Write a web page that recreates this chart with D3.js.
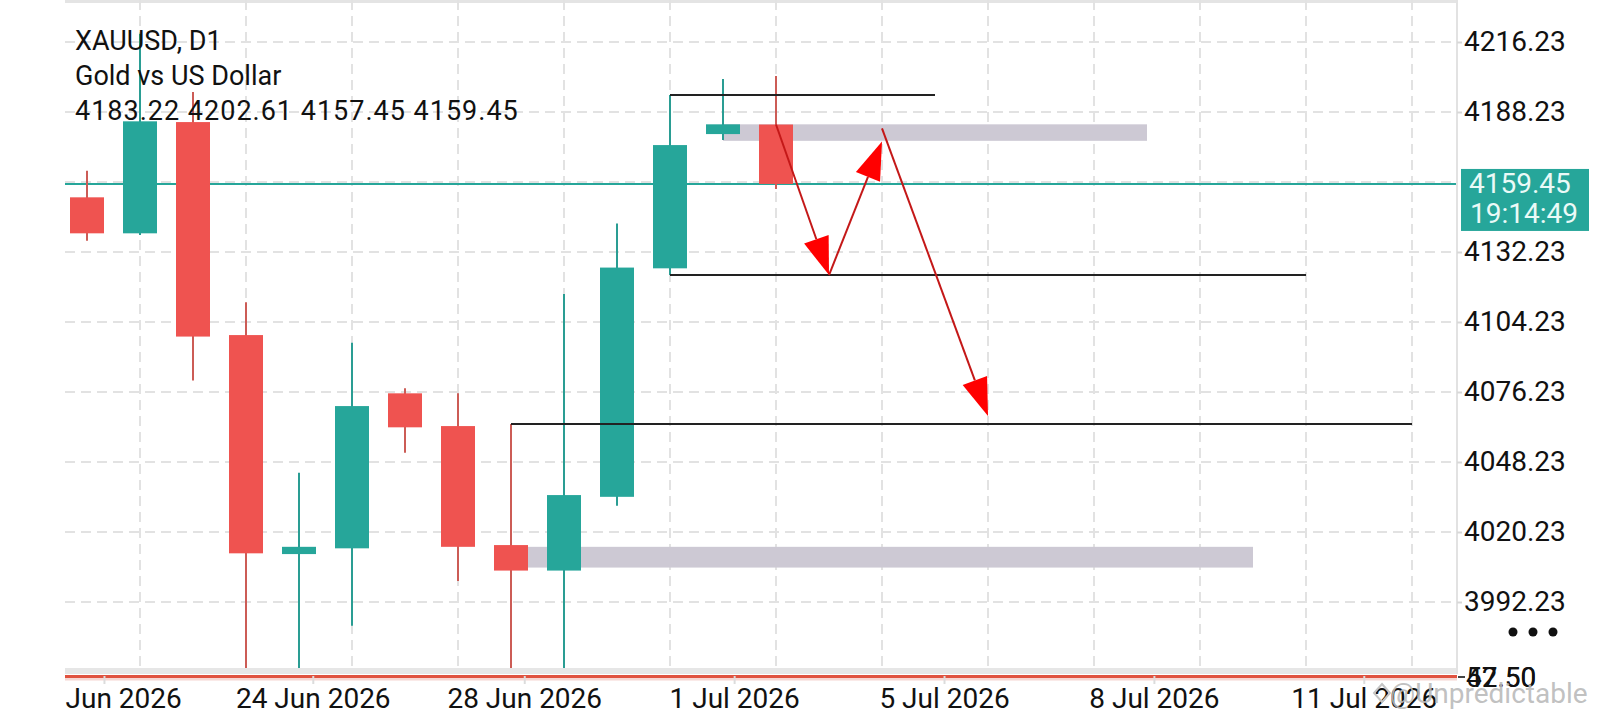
<!DOCTYPE html>
<html>
<head>
<meta charset="utf-8">
<script src="https://cdn.jsdelivr.net/npm/d3@7"></script>
<style>
  html, body { margin: 0; padding: 0; background: #fff; }
  svg { display: block; font-family: Roboto, "Noto Sans", sans-serif; }
</style>
</head>
<body>
<script>
const width = 1604;
const height = 720;

// daily candles, bar index 0..13
const opens  = [4154.1, 4139.7, 4184.2, 4099.0, 4011.4, 4013.7, 4075.7, 4062.6, 4015.0, 4004.8, 4034.3, 4125.7, 4179.4, 4183.22];
const highs  = [4164.7, 4219.5, 4196.2, 4112.1, 4043.9, 4095.9, 4077.7, 4075.7, 4063.4, 4115.4, 4143.6, 4195.0, 4201.4, 4202.61];
const lows   = [4136.7, 4139.0, 4080.8, 3960.0, 3960.0, 3982.7, 4051.9, 4000.6, 3960.0, 3960.0, 4030.7, 4123.0, 4177.0, 4157.45];
const closes = [4139.7, 4184.5, 4098.4, 4011.7, 4014.3, 4070.6, 4062.1, 4014.3, 4004.8, 4035.0, 4126.0, 4175.0, 4183.3, 4159.45];

const priceTicks = [3992.23, 4020.23, 4048.23, 4076.23, 4104.23, 4132.23, 4160.23, 4188.23, 4216.23];
const shownPriceTicks = [3992.23, 4020.23, 4048.23, 4076.23, 4104.23, 4132.23, 4188.23, 4216.23];
const gridBars = [1, 3, 5, 7, 9, 11, 13, 15, 17, 19, 21, 23, 25];
const dateTickPos = [0.32, 4.26, 8.25, 12.21, 16.17, 20.13, 24.09];
const dateTickLabels = ["20 Jun 2026", "24 Jun 2026", "28 Jun 2026", "1 Jul 2026", "5 Jul 2026", "8 Jul 2026", "11 Jul 2026"];

const lastPrice = 4159.45;
const timer = "19:14:49";
const header = ["XAUUSD, D1", "Gold vs US Dollar", "4183.22 4202.61 4157.45 4159.45"];
const subLabels = ["57.50", "42.50"];

// drawn objects: horizontal levels, zones, arrows (bar index / price)
const levels = [
  { from: 11, to: 16, price: 4195.0 },
  { from: 11, to: 23, price: 4123.0 },
  { from: 8,  to: 25, price: 4063.4 }
];
const zones = [
  { from: 12, to: 20, top: 4183.3, bottom: 4176.7 },
  { from: 8,  to: 22, top: 4014.3, bottom: 4006.0 }
];
const arrows = [
  { x1: 13, p1: 4183.22, x2: 14, p2: 4123.0 },
  { x1: 14, p1: 4123.0,  x2: 15, p2: 4176.4 },
  { x1: 15, p1: 4181.7,  x2: 17, p2: 4066.6 }
];

const candles = opens.map((o, i) => ({ i, o, h: highs[i], l: lows[i], c: closes[i] }));

const plot = { left: 65, right: 1457, top: 0, bottom: 668 };
const green = "#26a69a", red = "#ef5350";

const x = d3.scaleLinear().domain([0, 25]).range([87, 1412]);
const y = d3.scaleLinear().domain([3992.23, 4216.23]).range([602, 42]);
const barW = 34;

const svg = d3.select("body").append("svg")
  .attr("width", width)
  .attr("height", height);

const defs = svg.append("defs");
defs.append("clipPath").attr("id", "plotClip")
  .append("rect")
  .attr("x", plot.left).attr("y", plot.top)
  .attr("width", plot.right - plot.left).attr("height", plot.bottom - plot.top);
defs.append("clipPath").attr("id", "axisClip")
  .append("rect")
  .attr("x", plot.left).attr("y", 670)
  .attr("width", width - plot.left).attr("height", 50);

// top border
svg.append("line")
  .attr("x1", plot.left).attr("x2", plot.right)
  .attr("y1", 1.5).attr("y2", 1.5)
  .attr("stroke", "#e4e4e4").attr("stroke-width", 3);

// grid
const grid = svg.append("g").attr("clip-path", "url(#plotClip)");
grid.selectAll(".hgrid").data(priceTicks).enter().append("line")
  .attr("x1", plot.left).attr("x2", plot.right)
  .attr("y1", d => y(d)).attr("y2", d => y(d))
  .attr("stroke", "#e2e2e2").attr("stroke-width", 2)
  .attr("stroke-dasharray", "10,6");
grid.selectAll(".vgrid").data(gridBars).enter().append("line")
  .attr("x1", d => x(d)).attr("x2", d => x(d))
  .attr("y1", plot.top).attr("y2", plot.bottom)
  .attr("stroke", "#e2e2e2").attr("stroke-width", 2)
  .attr("stroke-dasharray", "10,6");

const main = svg.append("g").attr("clip-path", "url(#plotClip)");

// zones
main.selectAll(".zone").data(zones).enter().append("rect")
  .attr("x", d => x(d.from))
  .attr("y", d => y(d.top))
  .attr("width", d => x(d.to) - x(d.from))
  .attr("height", d => y(d.bottom) - y(d.top))
  .attr("fill", "#cdc9d4");

// last price line
main.append("line")
  .attr("x1", plot.left).attr("x2", plot.right)
  .attr("y1", y(lastPrice)).attr("y2", y(lastPrice))
  .attr("stroke", green).attr("stroke-width", 2);

// candles
const cg = main.selectAll(".candle").data(candles).enter().append("g");
cg.append("line")
  .attr("x1", d => x(d.i)).attr("x2", d => x(d.i))
  .attr("y1", d => y(d.h)).attr("y2", d => y(d.l))
  .attr("stroke", d => d.c >= d.o ? "#2a9d93" : "#cc5c56")
  .attr("stroke-width", 2);
cg.append("rect")
  .attr("x", d => x(d.i) - barW / 2)
  .attr("width", barW)
  .attr("y", d => y(Math.max(d.o, d.c)))
  .attr("height", d => Math.max(2, Math.abs(y(d.o) - y(d.c))))
  .attr("fill", d => d.c >= d.o ? green : red);

// horizontal levels
main.selectAll(".level").data(levels).enter().append("line")
  .attr("x1", d => x(d.from)).attr("x2", d => x(d.to))
  .attr("y1", d => y(d.price)).attr("y2", d => y(d.price))
  .attr("stroke", "#222").attr("stroke-width", 2);

// arrows
arrows.forEach(a => {
  const x1 = x(a.x1), y1 = y(a.p1), x2 = x(a.x2), y2 = y(a.p2);
  const len = Math.hypot(x2 - x1, y2 - y1);
  const ux = (x2 - x1) / len, uy = (y2 - y1) / len;
  const hl = 38, hw = 13;
  const bx = x2 - ux * hl, by = y2 - uy * hl;
  main.append("line")
    .attr("x1", x1).attr("y1", y1).attr("x2", bx).attr("y2", by)
    .attr("stroke", "#c41818").attr("stroke-width", 2);
  main.append("path")
    .attr("d", `M${x2},${y2}L${bx - uy * hw},${by + ux * hw}L${bx + uy * hw},${by - ux * hw}Z`)
    .attr("fill", "#ff0000");
});

// bottom strip and indicator line
svg.append("rect")
  .attr("x", plot.left).attr("y", 668)
  .attr("width", plot.right - plot.left).attr("height", 6)
  .attr("fill", "#e6e6e6");
svg.append("line")
  .attr("x1", plot.left).attr("x2", plot.right)
  .attr("y1", 679).attr("y2", 679)
  .attr("stroke", "#f6d6d2").attr("stroke-width", 3);
svg.append("line")
  .attr("x1", plot.left).attr("x2", plot.right)
  .attr("y1", 676.5).attr("y2", 676.5)
  .attr("stroke", "#e0523f").attr("stroke-width", 3);

// right border
svg.append("line")
  .attr("x1", plot.right).attr("x2", plot.right)
  .attr("y1", 0).attr("y2", 674)
  .attr("stroke", "#e2e2e2").attr("stroke-width", 2);

// y axis
const yAxis = svg.append("g")
  .attr("transform", `translate(${plot.right},0)`)
  .call(d3.axisRight(y).tickValues(shownPriceTicks).tickFormat(d => d.toFixed(2)).tickSize(5).tickPadding(2));
yAxis.select(".domain").remove();
yAxis.selectAll(".tick line").attr("stroke", "#d8d8d8").attr("stroke-width", 2);
yAxis.selectAll(".tick text")
  .attr("fill", "#111").style("font-size", "28px").style("font-family", "Roboto");

// last price label
svg.append("rect")
  .attr("x", 1461).attr("y", y(lastPrice) - 15)
  .attr("width", 128).attr("height", 62)
  .attr("fill", green);
svg.append("text")
  .attr("x", 1469).attr("y", y(lastPrice) + 9)
  .attr("fill", "#eafaf7").style("font-size", "28px")
  .text(lastPrice.toFixed(2));
svg.append("text")
  .attr("x", 1470).attr("y", y(lastPrice) + 39)
  .attr("fill", "#eafaf7").style("font-size", "28px")
  .text(timer);

// menu dots
svg.selectAll(".dot").data([0, 1, 2]).enter().append("circle")
  .attr("cx", d => 1513 + d * 20).attr("cy", 632).attr("r", 4.5)
  .attr("fill", "#111");

// sub-window labels (overlapping)
svg.append("line")
  .attr("x1", 1458).attr("x2", 1465).attr("y1", 677).attr("y2", 677)
  .attr("stroke", "#444").attr("stroke-width", 2);
svg.selectAll(".sub").data(subLabels).enter().append("text")
  .attr("x", 1466).attr("y", 687)
  .attr("fill", "#111").style("font-size", "28px")
  .text(d => d);

// x axis (outer group clips the labels at the plot's left edge)
const xAxisWrap = svg.append("g").attr("clip-path", "url(#axisClip)");
const xAxis = xAxisWrap.append("g")
  .attr("transform", "translate(0,676)")
  .call(d3.axisBottom(x).tickValues(dateTickPos).tickFormat((d, i) => dateTickLabels[i]).tickSize(8).tickPadding(4));
xAxis.select(".domain").remove();
xAxis.selectAll(".tick line").attr("stroke", "#dcdcdc").attr("stroke-width", 2);
xAxis.selectAll(".tick text")
  .attr("fill", "#111").style("font-size", "28px").style("font-family", "Roboto");

// watermark
svg.append("path")
  .attr("d", "M1382,684L1390,693L1382,702L1374,693Z")
  .attr("fill", "none").attr("stroke", "#c4c4c4").attr("stroke-width", 2);
svg.append("text")
  .attr("x", 1390).attr("y", 703)
  .attr("fill", "#b9b9b9").attr("fill-opacity", 0.9).style("font-size", "28px")
  .text("@Unpredictable");

// header
svg.selectAll(".hdr").data(header).enter().append("text")
  .attr("x", 75).attr("y", (d, i) => 50 + i * 35)
  .attr("fill", "#111").style("font-size", "27px")
  .style("letter-spacing", (d, i) => i === 2 ? "1px" : "0px")
  .text(d => d);
</script>
</body>
</html>
